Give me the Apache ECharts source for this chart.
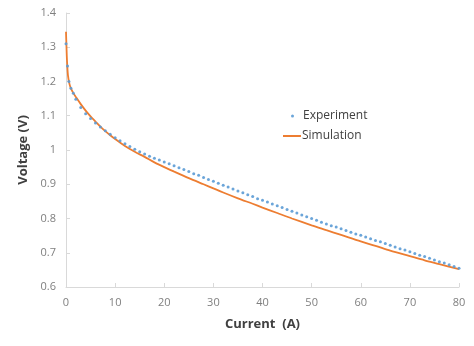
<!DOCTYPE html>
<html><head><meta charset="utf-8">
<script src="https://cdn.jsdelivr.net/npm/echarts@6/dist/echarts.min.js"></script>
<style>html,body{margin:0;padding:0;background:#fff}#c{width:474px;height:346px}</style>
</head><body><div id="c"></div>
<script>
// Experiment data: current (A), voltage (V)
var expCurrent = [0,0.3,0.6,1,1.5,2,3,4,5,6,7,8,9,10,11,12,13,14,15,16,17,18,19,20,21,22,23,24,25,26,27,28,29,30,31,32,33,34,35,36,37,38,39,40,41,42,43,44,45,46,47,48,49,50,51,52,53,54,55,56,57,58,59,60,61,62,63,64,65,66,67,68,69,70,71,72,73,74,75,76,77,78,79,80];
var expVoltage = [1.31,1.245,1.20,1.18,1.166,1.148,1.124,1.106,1.092,1.079,1.067,1.056,1.046,1.036,1.027,1.018,1.010,1.002,0.995,0.988,0.982,0.976,0.971,0.965,0.960,0.954,0.948,0.943,0.937,0.931,0.926,0.920,0.914,0.909,0.903,0.897,0.892,0.886,0.880,0.875,0.869,0.864,0.858,0.853,0.848,0.842,0.837,0.832,0.826,0.821,0.816,0.810,0.805,0.800,0.795,0.789,0.784,0.779,0.775,0.770,0.765,0.760,0.755,0.751,0.746,0.741,0.736,0.732,0.727,0.722,0.717,0.712,0.708,0.703,0.698,0.693,0.689,0.684,0.679,0.674,0.670,0.665,0.660,0.655];
// Simulation data
var simCurrent = [0,0.1,0.2,0.4,0.7,1,1.5,2,3,4,5,6,7,8,9,10,12,14,16,18,20,22,25,28,30,32,35,38,40,43,46,50,53,56,60,63,66,70,73,76,80];
var simVoltage = [1.345,1.30,1.262,1.218,1.193,1.180,1.166,1.155,1.134,1.115,1.098,1.083,1.068,1.055,1.043,1.032,1.012,0.995,0.980,0.964,0.950,0.937,0.918,0.900,0.888,0.876,0.859,0.843,0.832,0.816,0.800,0.780,0.766,0.752,0.733,0.720,0.706,0.690,0.678,0.667,0.652];
var xTicks = {min:0, max:80, interval:10};
var yTicks = {min:0.6, max:1.4, interval:0.1};

var expData = expCurrent.map(function(c,i){return [c, expVoltage[i]];});
var simData = simCurrent.map(function(c,i){return [c, simVoltage[i]];});
var FONT = '"Open Sans", "Noto Sans", sans-serif';
var chart = echarts.init(document.getElementById('c'), null, {renderer:'canvas'});
chart.setOption({
  animation:false,
  backgroundColor:'#ffffff',
  textStyle:{fontFamily:FONT},
  grid:{left:66, right:15, top:13, bottom:59},
  legend:[{
    data:[{name:'Experiment', icon:'circle'}],
    left:286, top:105, itemWidth:3, itemHeight:3, itemGap:6,
    textStyle:{fontFamily:FONT, fontSize:12, color:'#404040', padding:[0,0,0,4]}
  },{
    data:[{name:'Simulation', icon:'rect'}],
    left:278, top:125, itemWidth:18, itemHeight:2,
    textStyle:{fontFamily:FONT, fontSize:12, color:'#404040', padding:[0,0,0,-4]}
  }],
  xAxis:{
    type:'value', min:xTicks.min, max:xTicks.max, interval:xTicks.interval,
    name:'Current  (A)', nameLocation:'middle', nameGap:31,
    nameTextStyle:{fontFamily:FONT, fontSize:13, fontWeight:'bold', color:'#404040'},
    axisLine:{show:true, onZero:false, lineStyle:{color:'#d9d9d9', width:1}},
    axisTick:{show:true, inside:true, length:4, lineStyle:{color:'#d9d9d9'}},
    axisLabel:{fontFamily:FONT, fontSize:11, color:'#7f7f7f', margin:10},
    splitLine:{show:false}
  },
  yAxis:{
    type:'value', min:yTicks.min, max:yTicks.max, interval:yTicks.interval,
    name:'Voltage (V)', nameLocation:'middle', nameGap:36,
    nameTextStyle:{fontFamily:FONT, fontSize:13, fontWeight:'bold', color:'#404040'},
    axisLine:{show:true, onZero:false, lineStyle:{color:'#d9d9d9', width:1}},
    axisTick:{show:true, inside:true, length:4, lineStyle:{color:'#d9d9d9'}},
    axisLabel:{fontFamily:FONT, fontSize:11, color:'#7f7f7f', margin:10},
    splitLine:{show:false}
  },
  series:[{
    name:'Simulation', type:'line', data:simData, smooth:0.3, showSymbol:false, symbol:'none',
    lineStyle:{color:'#ed7d31', width:1.8}, itemStyle:{color:'#ed7d31'}, z:2
  },{
    name:'Experiment', type:'scatter', data:expData, symbol:'circle', symbolSize:3,
    itemStyle:{color:'#5b9bd5', opacity:0.9}, z:3
  }]
});
</script></body></html>
